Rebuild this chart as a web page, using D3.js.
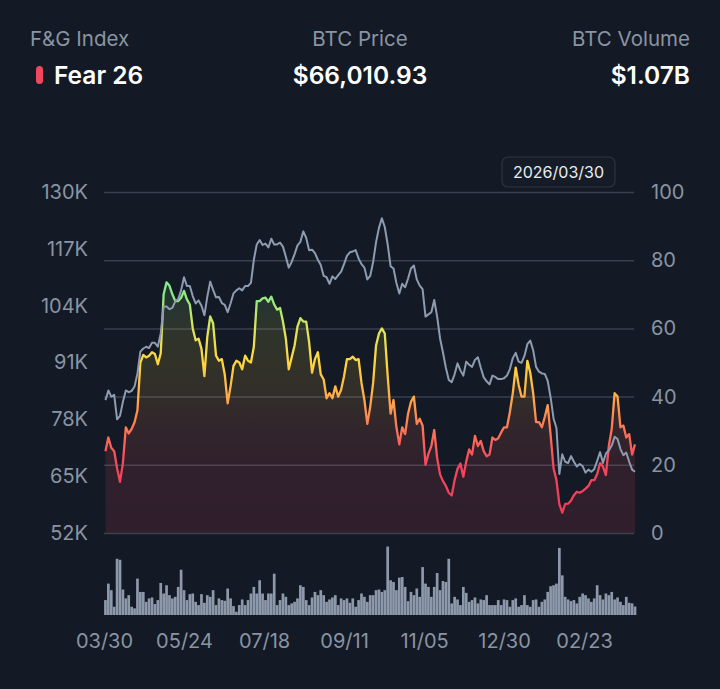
<!DOCTYPE html>
<html>
<head>
<meta charset="utf-8">
<script src="https://cdn.jsdelivr.net/npm/d3@7"></script>
<style>
	html, body { margin: 0; background: #131a25; }
	svg { display: block; font-family: Inter, Roboto, sans-serif; }
</style>
</head>
<body>
<div class="canvas"></div>
<script>
// BTC price in K USD, one point every 2 days ending 2026/03/30
const priceK = [
	82.4, 84.6, 83.2, 83.6, 78.0, 78.8, 82.0, 84.6, 84.2, 84.5,
	85.5, 88.5, 93.5, 94.2, 94.6, 94.3, 95.5, 95.5, 94.6, 97.7,
	103.8, 103.8, 103.2, 103.5, 105.0, 105.5, 107.5, 110.5, 108.5, 108.5,
	106.2, 104.5, 105.2, 104.0, 101.8, 106.0, 109.5, 107.6, 105.9, 106.0,
	104.6, 104.2, 102.5, 104.5, 106.8, 107.5, 108.0, 107.5, 108.5, 108.5,
	109.2, 114.5, 118.0, 119.0, 117.9, 118.2, 117.3, 119.3, 118.0, 118.0,
	118.4, 117.5, 115.2, 112.7, 114.0, 115.8, 117.8, 118.6, 121.0, 119.5,
	116.7, 116.8, 116.0, 114.5, 113.3, 110.8, 110.5, 109.0, 110.7, 110.1,
	111.0, 111.8, 113.5, 115.4, 116.2, 116.4, 116.7, 114.8, 113.5, 112.7,
	110.0, 110.8, 114.0, 118.5, 121.8, 124.0, 122.0, 118.0, 113.0, 112.5,
	109.2, 106.8, 109.0, 108.2, 110.2, 112.5, 113.2, 110.0, 108.6, 107.8,
	101.5, 102.0, 102.5, 105.3, 101.5, 96.5, 93.3, 89.8, 87.0, 86.5,
	88.3, 90.8, 89.2, 88.0, 91.2, 90.5, 90.0, 91.6, 92.2, 89.8,
	87.6, 86.7, 86.0, 88.0, 87.7, 87.2, 87.2, 87.4, 88.0, 89.5,
	92.0, 93.2, 91.2, 90.9, 92.5, 95.2, 96.0, 93.8, 90.0, 88.9,
	88.5, 88.4, 86.8, 83.0, 78.2, 76.0, 65.5, 70.0, 68.3, 68.0,
	69.6, 68.3, 67.2, 67.8, 67.3, 65.8, 66.5, 66.0, 66.6, 68.5,
	70.5, 68.0, 70.2, 70.9, 72.0, 74.0, 73.5, 71.2, 69.8, 70.4,
	68.3, 66.5, 66.0
];

// Fear & Greed index, same dates
const fearGreed = [
	24, 28, 25, 24, 19, 15, 20.5, 31, 29.2, 30.5,
	32.5, 36, 50, 52.2, 51.5, 52, 53, 52.5, 49.5, 52.7,
	70, 73.5, 72.5, 70, 68, 68, 69, 71, 68.5, 67,
	60, 56.5, 57, 54, 46, 57.5, 63.5, 61.5, 52, 50.5,
	51, 46.5, 38, 43, 49, 50.5, 50, 48, 52, 50.5,
	50, 54.6, 68, 68, 68.8, 69, 67.8, 69.3, 67, 65.5,
	66, 62, 57, 48, 51.5, 55, 60.5, 63, 62, 62,
	56, 47, 51, 53, 46.5, 45, 39.5, 41, 39.5, 43,
	40, 42, 46, 51, 51, 51.7, 50.7, 51, 44, 39,
	32, 37, 44, 55, 58.5, 60, 58.5, 46, 35, 39,
	31, 26, 31, 29, 35, 38.5, 40, 32, 33.5, 31.5,
	20, 23.2, 25.5, 30.2, 22, 17.2, 15.2, 13.8, 11.8, 11,
	15.5, 18.8, 20.4, 16.5, 21, 24.5, 23, 28.5, 25.5, 27,
	24, 22.5, 23, 28, 27.3, 27.8, 29.5, 31, 31, 35.5,
	41, 48.5, 43.5, 40, 40, 50.5, 47, 41, 32.5, 32.5,
	31, 34, 37.5, 28.7, 19, 15.5, 8.5, 6, 8.5, 8.6,
	9.5, 11.1, 12.1, 11.8, 12.3, 13, 13.8, 15.5, 15.5, 17.3,
	20.5, 19.5, 17, 25.5, 30.5, 41, 40, 31, 31.5, 28,
	29, 23, 26
];

// BTC volume in B USD, same dates
const volumeB = [
	1.88, 3.96, 3.13, 1.04, 7.09, 6.96, 3.21, 2.09, 2.5, 1.04,
	0.84, 4.59, 2.91, 2.91, 1.66, 2.09, 2.21, 1.38, 1.88, 4.04,
	2.71, 3.75, 2.5, 2.09, 2.29, 3.54, 5.71, 3.13, 1.88, 2.63,
	2.71, 1.66, 1.25, 2.63, 1.54, 2.5, 2.29, 3.13, 1.25, 2.09,
	1.88, 1.79, 3.34, 2.09, 1.13, 0.41, 1.25, 1.96, 1.25, 1.88,
	2.71, 3.54, 2.71, 4.38, 2.71, 1.88, 2.71, 2.71, 5.21, 1.25,
	1.88, 2.71, 2.29, 1.25, 1.46, 1.66, 2.09, 3.75, 3.54, 1.88,
	1.25, 2.21, 2.91, 2.5, 3.13, 2.5, 1.66, 1.96, 2.21, 2.5,
	1.25, 2.09, 1.88, 2.09, 1.54, 2.09, 1.04, 1.88, 2.71, 2.29,
	1.66, 2.5, 2.5, 3.13, 3.21, 2.91, 3.13, 8.63, 4.38, 4.16,
	3.13, 4.71, 4.79, 3.54, 1.75, 2.91, 2.5, 3.34, 2.29, 6.04,
	3.96, 3.54, 2.29, 3.54, 5.29, 3.13, 4.29, 4.16, 7.09, 1.46,
	2.29, 1.96, 1.25, 3.54, 2.79, 1.66, 1.88, 2.21, 1.46, 1.96,
	1.88, 2.5, 1.25, 1.25, 1.25, 1.88, 1.25, 1.96, 1.88, 1.04,
	1.88, 2.09, 1.04, 1.25, 2.5, 1.25, 1.04, 1.88, 1.96, 1.04,
	1.66, 1.96, 2.91, 3.63, 3.75, 3.96, 8.46, 5.0, 2.29, 1.96,
	1.75, 1.88, 1.46, 2.29, 2.71, 2.5, 2.09, 1.66, 2.09, 3.75,
	2.5, 1.96, 2.71, 2.5, 2.91, 1.96, 2.21, 1.66, 1.25, 2.29,
	1.54, 1.46, 1.07
];

const priceTicks = [52, 65, 78, 91, 104, 117, 130];
const fgTicks = [0, 20, 40, 60, 80, 100];
const dateTicks = ['2025-03-30', '2025-05-24', '2025-07-18', '2025-09-11', '2025-11-05', '2025-12-30', '2026-02-23'];

const W = 720, H = 689;
const left = 104, right = 634;
const bg = '#131a25';
const muted = '#8a94a3';

const svg = d3.select('.canvas').append('svg')
	.attr('width', W)
	.attr('height', H);

svg.append('rect').attr('width', W).attr('height', H).attr('fill', bg);

const parse = d3.utcParse('%Y-%m-%d');
const endDate = parse('2026-03-30');
const data = priceK.map((p, i) => ({
	date: d3.utcDay.offset(endDate, -2 * (priceK.length - 1 - i)),
	price: p,
	fg: fearGreed[i],
	vol: volumeB[i]
}));

// scales
const x = d3.scaleUtc()
	.domain([parse('2025-03-30'), endDate])
	.range([left, right + 1]);
const yPrice = d3.scaleLinear().domain([52, 130]).range([533, 192]);
const yFG = d3.scaleLinear().domain([0, 100]).range([533, 192]);
const yVol = d3.scaleLinear().domain([0, 8.7]).range([615, 546]);

// colour of the F&G line depends on its value
const fgColours = [
	[0, '#ee3856'], [20, '#f4465d'], [30, '#ff7355'], [40, '#ffab48'],
	[50, '#ffd63e'], [60, '#dfe35a'], [70, '#88ea86'], [100, '#5fe6a6']
];
const defs = svg.append('defs');
function addGradient(id, opacity) {
	const g = defs.append('linearGradient')
		.attr('id', id)
		.attr('gradientUnits', 'userSpaceOnUse')
		.attr('x1', 0).attr('x2', 0)
		.attr('y1', yFG(0)).attr('y2', yFG(100));
	g.selectAll('stop')
		.data(fgColours)
		.enter().append('stop')
		.attr('offset', d => d[0] / 100)
		.attr('stop-color', d => d[1])
		.attr('stop-opacity', opacity);
}
addGradient('fgLine', 1);
addGradient('fgArea', 0.13);

// header
const header = svg.append('g');
header.append('text').attr('x', 30).attr('y', 46).text('F&G Index')
	.attr('fill', muted).attr('font-size', 20.5);
header.append('text').attr('x', 360).attr('y', 46).text('BTC Price')
	.attr('fill', muted).attr('font-size', 20.5).attr('text-anchor', 'middle');
header.append('text').attr('x', 690).attr('y', 46).text('BTC Volume')
	.attr('fill', muted).attr('font-size', 20.5).attr('text-anchor', 'end');

header.append('rect')
	.attr('x', 36).attr('y', 66).attr('width', 7).attr('height', 18).attr('rx', 3.5)
	.attr('fill', '#f0475e');
header.append('text').attr('x', 54).attr('y', 84)
	.text('Fear ' + d3.format('d')(fearGreed[fearGreed.length - 1]))
	.attr('fill', '#ffffff').attr('font-size', 24.5).attr('font-weight', 600);
header.append('text').attr('x', 360).attr('y', 84).text('$66,010.93')
	.attr('fill', '#ffffff').attr('font-size', 24.5).attr('font-weight', 600).attr('text-anchor', 'middle');
header.append('text').attr('x', 690).attr('y', 84)
	.text('$' + d3.format('.2f')(volumeB[volumeB.length - 1]) + 'B')
	.attr('fill', '#ffffff').attr('font-size', 24.5).attr('font-weight', 600).attr('text-anchor', 'end');

// gridlines + right axis
const rightAxis = svg.append('g')
	.attr('transform', `translate(${right}, 0)`)
	.call(d3.axisRight(yFG).tickValues(fgTicks).tickSize(-(right - left)).tickPadding(17));
rightAxis.select('.domain').remove();
rightAxis.selectAll('line').attr('stroke', '#38414e').attr('stroke-width', 1.5);
rightAxis.selectAll('text').attr('fill', muted).attr('font-size', 20).attr('font-family', 'Inter, Roboto, sans-serif');

// left axis
const leftAxis = svg.append('g')
	.attr('transform', `translate(${left}, 0)`)
	.call(d3.axisLeft(yPrice).tickValues(priceTicks).tickSize(0).tickPadding(16).tickFormat(d => d + 'K'));
leftAxis.select('.domain').remove();
leftAxis.selectAll('text').attr('fill', muted).attr('font-size', 20).attr('font-family', 'Inter, Roboto, sans-serif');

// bottom axis
const bottomAxis = svg.append('g')
	.attr('transform', 'translate(0, 634)')
	.call(d3.axisBottom(x).tickValues(dateTicks.map(parse)).tickSize(0).tickPadding(0).tickFormat(d3.utcFormat('%m/%d')));
bottomAxis.select('.domain').remove();
bottomAxis.selectAll('text').attr('fill', muted).attr('font-size', 20).attr('font-family', 'Inter, Roboto, sans-serif');

// volume bars
svg.append('g').selectAll('rect')
	.data(data)
	.enter().append('rect')
	.attr('x', d => x(d.date) - 1.35)
	.attr('width', 2.7)
	.attr('y', d => yVol(d.vol))
	.attr('height', d => yVol(0) - yVol(d.vol))
	.attr('fill', '#8d99ab');

// F&G area + line
const area = d3.area()
	.x(d => x(d.date))
	.y0(yFG(0))
	.y1(d => yFG(d.fg));
svg.append('path').datum(data)
	.attr('d', area)
	.attr('fill', 'url(#fgArea)');

const fgLine = d3.line().x(d => x(d.date)).y(d => yFG(d.fg));
svg.append('path').datum(data)
	.attr('d', fgLine)
	.attr('fill', 'none')
	.attr('stroke', 'url(#fgLine)')
	.attr('stroke-width', 2.3)
	.attr('stroke-linejoin', 'round');

// price line
const priceLine = d3.line().x(d => x(d.date)).y(d => yPrice(d.price));
svg.append('path').datum(data)
	.attr('d', priceLine)
	.attr('fill', 'none')
	.attr('stroke', '#8e9bb0')
	.attr('stroke-width', 2)
	.attr('stroke-linejoin', 'round');

// date tag
const tag = svg.append('g');
tag.append('rect')
	.attr('x', 502).attr('y', 157).attr('width', 113).attr('height', 30).attr('rx', 6)
	.attr('fill', '#151c27').attr('stroke', '#2c3440').attr('stroke-width', 1.2);
tag.append('text')
	.attr('x', 558.5).attr('y', 177.5)
	.attr('text-anchor', 'middle')
	.attr('fill', '#e9edf2').attr('font-size', 16)
	.text(d3.utcFormat('%Y/%m/%d')(endDate));
</script>
</body>
</html>
